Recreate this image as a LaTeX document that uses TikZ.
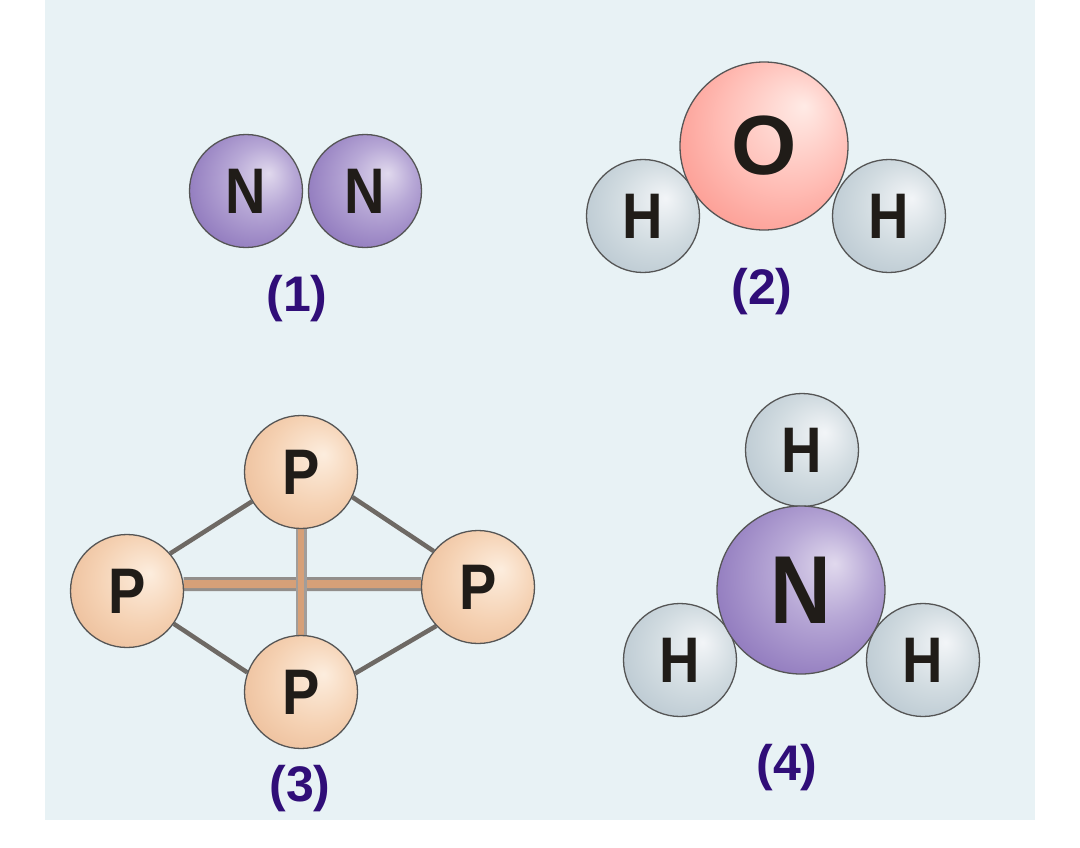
\documentclass[tikz,border=0pt]{standalone}
\usepackage{fontspec}
\setmainfont{Liberation Sans}
\usetikzlibrary{backgrounds}
\definecolor{bgc}{RGB}{232,242,245}
\definecolor{lab}{RGB}{48,14,120}
\definecolor{txt}{RGB}{32,28,24}
\definecolor{edge}{RGB}{85,85,85}
\definecolor{bondcol}{RGB}{110,105,100}
\definecolor{bondor}{RGB}{214,160,120}
\pgfdeclareradialshading{nitshade}{\pgfpoint{10bp}{8bp}}{rgb(0bp)=(0.88,0.85,0.93); rgb(14bp)=(0.72,0.66,0.84); rgb(32bp)=(0.56,0.47,0.74); rgb(50bp)=(0.45,0.35,0.64)}
\pgfdeclareradialshading{oxyshade}{\pgfpoint{12bp}{12bp}}{rgb(0bp)=(1.0,0.92,0.90); rgb(20bp)=(1.0,0.74,0.71); rgb(42bp)=(0.98,0.53,0.49); rgb(50bp)=(0.96,0.47,0.43)}
\pgfdeclareradialshading{hydshade}{\pgfpoint{10bp}{8bp}}{rgb(0bp)=(0.95,0.96,0.97); rgb(18bp)=(0.82,0.86,0.88); rgb(38bp)=(0.70,0.76,0.80); rgb(50bp)=(0.60,0.67,0.72)}
\pgfdeclareradialshading{phoshade}{\pgfpoint{10bp}{8bp}}{rgb(0bp)=(0.99,0.93,0.87); rgb(20bp)=(0.96,0.82,0.70); rgb(40bp)=(0.91,0.71,0.56); rgb(50bp)=(0.86,0.64,0.48)}
\newcommand{\tallchar}[1]{\scalebox{1}[1.15]{#1}}
\tikzset{x=1pt,y=-1pt,
 atom/.style={circle,draw=edge,line width=1.3pt,inner sep=0pt,text=txt,font=\bfseries\fontsize{56}{56}\selectfont},
 small/.style={atom,minimum size=113pt},
 big/.style={atom,minimum size=168pt,font=\bfseries\fontsize{84}{84}\selectfont},
 nit/.style={small,shading=nitshade},
 bignit/.style={big,shading=nitshade},
 oxy/.style={big,shading=oxyshade},
 hyd/.style={small,shading=hydshade},
 pho/.style={small,shading=phoshade},
 molname/.style={text=lab,font=\bfseries\fontsize{50}{50}\selectfont,inner sep=0pt},
 bond/.style={line width=4.5pt,draw=bondcol},
 wideout/.style={line width=14pt,draw=bondcol!75!white},
 widein/.style={line width=8pt,draw=bondor},
 tallout/.style={line width=11pt,draw=bondcol!65!white},
 tallin/.style={line width=6pt,draw=bondor}}
\begin{document}
\begin{tikzpicture}
\useasboundingbox (0,0) rectangle (1080,847);
% (1)
\node[nit] (n1) at (246,191) {\tallchar{N}};
\node[nit] (n2) at (365,191) {\tallchar{N}};
\node[molname] (c1) at (297,299) {(1)};
% (2)
\node[hyd] (h1) at (643,216) {\tallchar{H}};
\node[hyd] (h2) at (889,216) {\tallchar{H}};
\node[oxy] (o) at (764,146) {O};
\node[molname] (c2) at (762,292) {(2)};
% (3)
\node[pho] (p1) at (301,472) {\tallchar{P}};
\node[pho] (p2) at (301,692) {\tallchar{P}};
\node[pho] (p3) at (127,591) {\tallchar{P}};
\node[pho] (p4) at (478,587) {\tallchar{P}};
\node[molname] (c3) at (300,789) {(3)};
% (4)
\node[hyd] (h3) at (802,450) {\tallchar{H}};
\node[hyd] (h4) at (680,660) {\tallchar{H}};
\node[hyd] (h5) at (923,660) {\tallchar{H}};
\node[bignit] (n3) at (801,590) {\tallchar{N}};
\node[molname] (c4) at (787,768) {(4)};
\begin{pgfonlayer}{background}
\fill[white] (0,0) rectangle (1080,847);
\fill[bgc] (45,0) rectangle (1035,820);
\draw[bond] (p1.211)--(p3.41) (p1.334)--(p4.141) (p2.160)--(p3.325) (p2.19)--(p4.223);
\draw[wideout] (p3.7)--(p4.177);
\draw[widein] (p3.7)--(p4.177);
\draw[tallout] (p1)--(p2);
\draw[tallin] (p1)--(p2);
\end{pgfonlayer}
\end{tikzpicture}
\end{document}
